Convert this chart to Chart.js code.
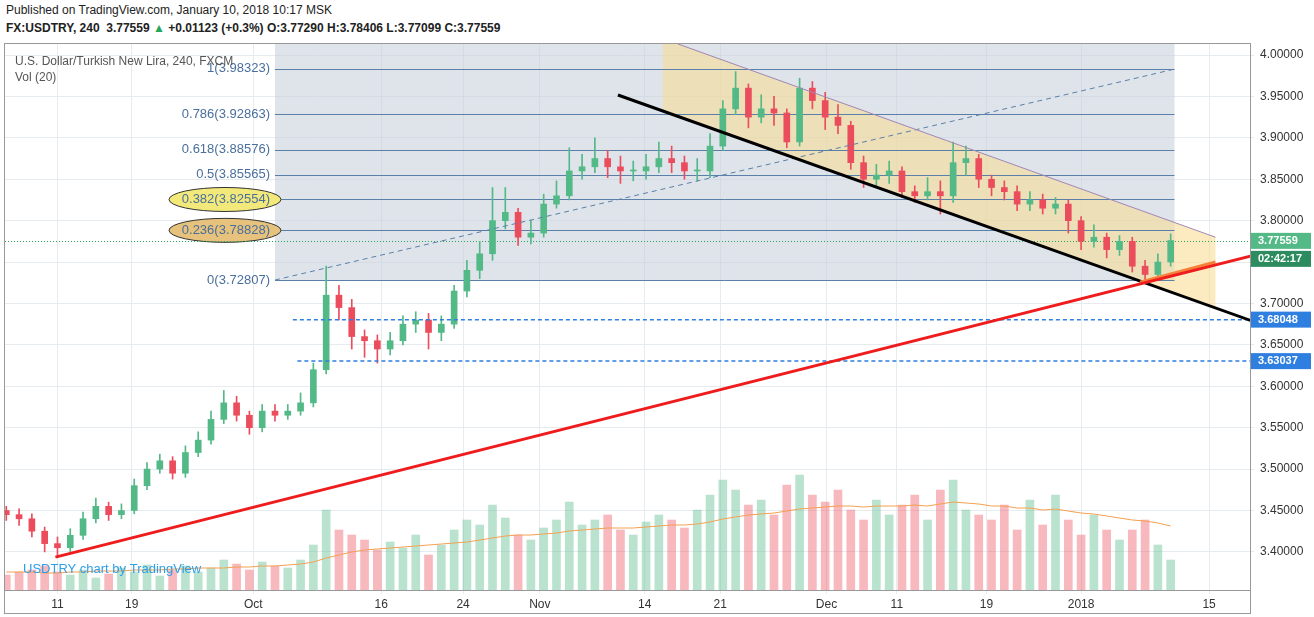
<!DOCTYPE html>
<html>
<head>
<meta charset="utf-8">
<script src="https://cdn.jsdelivr.net/npm/chart.js@4"></script>
<style>
  body { margin: 0; background: #fff; font-family: Arial, "Liberation Sans", sans-serif; }
  #wrap { position: relative; width: 1314px; height: 617px; }
  #head1 { position: absolute; left: 6px; top: 3px; font-size: 12px; color: #222; }
  #head2 { position: absolute; left: 6px; top: 21px; font-size: 12px; color: #222; font-weight: bold; }
  #head2 .up { color: #26a65b; }
  canvas { position: absolute; left: 0; top: 0; }
</style>
</head>
<body>
<div id="wrap">
  <div id="head1">Published on TradingView.com, January 10, 2018 10:17 MSK</div>
  <div id="head2">FX:USDTRY, 240&nbsp; 3.77559 <span class="up">▲</span> +0.01123 (+0.3%) O:3.77290 H:3.78406 L:3.77099 C:3.77559</div>
  <canvas id="chart" width="1314" height="617"></canvas>
</div>
<script>
// candle index -4 .. 87 (roughly one per trading day)
const firstIndex = -4;
const closes = [3.445,3.440,3.425,3.410,3.405,3.420,3.440,3.455,3.445,3.450,
  3.480,3.500,3.510,3.495,3.520,3.535,3.560,3.580,3.565,3.550,
  3.570,3.565,3.570,3.580,3.620,3.710,3.695,3.660,3.655,3.645,
  3.655,3.675,3.680,3.665,3.675,3.715,3.740,3.760,3.800,3.810,
  3.780,3.785,3.820,3.830,3.860,3.865,3.875,3.865,3.860,3.860,
  3.865,3.875,3.870,3.860,3.860,3.890,3.935,3.960,3.925,3.935,
  3.930,3.895,3.960,3.945,3.925,3.915,3.870,3.850,3.855,3.860,
  3.835,3.830,3.835,3.830,3.870,3.875,3.850,3.840,3.835,3.820,
  3.825,3.815,3.820,3.800,3.775,3.780,3.765,3.775,3.745,3.735,
  3.750,3.776];
const highs = [3.455,3.452,3.446,3.430,3.418,3.428,3.448,3.465,3.460,3.458,
  3.488,3.508,3.518,3.515,3.528,3.545,3.570,3.595,3.588,3.570,
  3.578,3.578,3.578,3.592,3.628,3.745,3.722,3.705,3.668,3.662,
  3.665,3.685,3.690,3.688,3.685,3.722,3.752,3.775,3.840,3.840,
  3.815,3.800,3.832,3.848,3.888,3.880,3.900,3.885,3.878,3.872,
  3.880,3.895,3.890,3.878,3.875,3.905,3.945,3.980,3.965,3.952,
  3.950,3.935,3.972,3.968,3.955,3.940,3.920,3.878,3.868,3.872,
  3.865,3.842,3.852,3.848,3.895,3.890,3.880,3.855,3.848,3.842,
  3.835,3.832,3.828,3.825,3.805,3.795,3.785,3.782,3.780,3.752,
  3.760,3.784];
const lows = [3.438,3.432,3.418,3.400,3.395,3.400,3.415,3.435,3.438,3.440,
  3.446,3.475,3.495,3.488,3.490,3.515,3.530,3.555,3.558,3.542,
  3.545,3.558,3.560,3.565,3.575,3.615,3.680,3.645,3.635,3.628,
  3.638,3.650,3.665,3.645,3.655,3.670,3.708,3.730,3.752,3.790,
  3.770,3.772,3.780,3.815,3.825,3.850,3.858,3.852,3.845,3.848,
  3.850,3.858,3.858,3.850,3.848,3.852,3.885,3.928,3.912,3.918,
  3.915,3.888,3.890,3.935,3.910,3.905,3.862,3.840,3.840,3.845,
  3.828,3.822,3.825,3.808,3.822,3.855,3.840,3.830,3.825,3.812,
  3.812,3.808,3.808,3.785,3.765,3.768,3.755,3.758,3.738,3.725,
  3.728,3.745];
const firstOpen = 3.450;
const volumes = [15,18,20,24,18,15,20,12,16,22,18,25,14,20,24,18,22,30,26,20,28,24,22,30,45,
  80,60,55,50,40,48,42,55,35,45,60,70,65,85,72,55,50,62,70,88,65,70,75,60,55,68,75,70,62,80,
  95,110,100,85,90,75,105,115,95,88,100,80,70,90,75,85,95,70,100,110,80,75,70,85,60,90,65,95,70,55,75,60,50,60,70,45,30];
const volumeMA = [18,18,18,17,17,18,18,19,19,19,20,20,20,21,21,22,22,22,23,23,24,24,25,26,28,
  32,35,38,40,41,42,43,44,45,46,47,48,50,52,54,55,55,56,57,59,60,61,62,62,62,63,64,65,65,66,
  68,71,73,75,76,77,79,81,82,83,84,84,83,84,84,84,85,84,86,88,87,86,84,84,82,82,80,81,79,77,76,74,72,70,69,67,64];

// x axis ticks (candle index) and labels
const tickValues = [0, 5.8, 15.3, 25.3, 31.7, 37.7, 45.9, 51.8, 60.1, 65.6, 72.6, 80, 90];
const tickLabels = ['11', '19', 'Oct', '16', '24', 'Nov', '14', '21', 'Dec', '11', '19', '2018', '15'];

// fibonacci levels
const fibRatios = ['1', '0.786', '0.618', '0.5', '0.382', '0.236', '0'];
const fibPrices = [3.98323, 3.92863, 3.88576, 3.85565, 3.82554, 3.78828, 3.72807];
const fibRange = [17.0, 87.3];

// drawings (index, price)
const fibDiagonal = [[17.0, 3.7283], [87.3, 3.983]];
const blackTrend = [[43.8, 3.9517], [93.6, 3.6775]];
const redTrend = [[-0.16, 3.3937], [93.6, 3.7585]];
const orangeTrend = [[84.6, 3.7258], [90.5, 3.750]];
const channelTop = [[48.5, 4.0133], [90.5, 3.780]];
const channelArea = [[47.3, 4.0133], [48.5, 4.0133], [90.5, 3.780], [90.5, 3.6946], [47.3, 3.9324]];
const support1 = [[18.4, 3.68048], [93.6, 3.68048]];
const support2 = [[18.75, 3.63037], [93.6, 3.63037]];
const lastPrice = 3.77559;

const UP = '#53b987', DOWN = '#eb4d5c';

const opens = closes.map((c, i) => i === 0 ? firstOpen : closes[i - 1]);
const idx = closes.map((c, i) => firstIndex + i);
const isUp = closes.map((c, i) => c >= opens[i]);

const toPts = arr => arr.map(p => ({ x: p[0], y: p[1] }));
const lineSet = (arr, color, width, dash) => ({
    type: 'line', data: toPts(arr), borderColor: color, borderWidth: width,
    borderDash: dash || [], pointRadius: 0, fill: false, yAxisID: 'y', order: 1
});

const overlays = {
    id: 'overlays',
    beforeDatasetsDraw(chart) {
        const { ctx, chartArea: a, scales: { x, y } } = chart;
        ctx.save();
        ctx.beginPath();
        ctx.rect(a.left, a.top, a.right - a.left, a.bottom - a.top);
        ctx.clip();
        // fib box
        ctx.fillStyle = 'rgba(196,206,218,0.55)';
        const fx0 = x.getPixelForValue(fibRange[0]), fx1 = x.getPixelForValue(fibRange[1]);
        ctx.fillRect(fx0, a.top, fx1 - fx0, y.getPixelForValue(fibPrices[6]) - a.top);
        // channel
        ctx.fillStyle = 'rgba(250,218,140,0.55)';
        ctx.beginPath();
        channelArea.forEach((p, i) => {
            const px = x.getPixelForValue(p[0]), py = y.getPixelForValue(p[1]);
            i ? ctx.lineTo(px, py) : ctx.moveTo(px, py);
        });
        ctx.closePath();
        ctx.fill();
        // fib lines
        ctx.strokeStyle = '#5a7fa8';
        ctx.lineWidth = 1;
        fibPrices.forEach(p => {
            const py = Math.round(y.getPixelForValue(p)) + 0.5;
            ctx.beginPath(); ctx.moveTo(fx0, py); ctx.lineTo(fx1, py); ctx.stroke();
        });
        ctx.restore();

        // fib labels
        ctx.save();
        ctx.font = '13px Arial';
        ctx.textAlign = 'right';
        ctx.textBaseline = 'middle';
        fibPrices.forEach((p, i) => {
            const py = y.getPixelForValue(p);
            if (i === 4 || i === 5) {
                ctx.beginPath();
                ctx.ellipse(fx0 - 50, py, 56, 12, 0, 0, Math.PI * 2);
                ctx.fillStyle = i === 4 ? '#f3e97a' : '#e6c27c';
                ctx.fill();
                ctx.strokeStyle = '#333';
                ctx.stroke();
            }
            ctx.fillStyle = '#4a6f9c';
            ctx.fillText(fibRatios[i] + '(' + p.toFixed(5) + ')', fx0 - 5, py);
        });
        // current price dotted line
        const lp = Math.round(y.getPixelForValue(lastPrice)) + 0.5;
        ctx.strokeStyle = '#26a65b';
        ctx.setLineDash([1, 2]);
        ctx.beginPath(); ctx.moveTo(a.left, lp); ctx.lineTo(a.right, lp); ctx.stroke();
        ctx.restore();
    },
    afterDraw(chart) {
        const { ctx, chartArea: a, scales: { y } } = chart;
        ctx.save();
        ctx.font = '12px Arial';
        ctx.textBaseline = 'middle';
        ctx.fillStyle = '#555';
        ctx.fillText('U.S. Dollar/Turkish New Lira, 240, FXCM', a.left + 10, 62);
        ctx.fillText('Vol (20)', a.left + 10, 78);
        ctx.fillStyle = '#2f9ee8';
        ctx.font = '13px Arial';
        ctx.fillText('USDTRY chart by TradingView', a.left + 18, 569);
        // frame
        ctx.strokeStyle = '#999';
        ctx.lineWidth = 1;
        ctx.strokeRect(a.left - 0.5, a.top - 0.5, a.right - a.left + 1, 617 - a.top - 3);
        // price tags
        const tag = (price, bg, text, dy) => {
            const py = y.getPixelForValue(price) + (dy || 0);
            ctx.fillStyle = bg;
            ctx.fillRect(a.right + 1, py - 8, 60, 16);
            ctx.fillStyle = '#fff';
            ctx.font = 'bold 11px Arial';
            ctx.fillText(text, a.right + 8, py);
        };
        tag(3.68048, '#2f7fe0', '3.68048');
        tag(3.63037, '#2f7fe0', '3.63037');
        tag(lastPrice, '#53b987', '3.77559');
        tag(lastPrice, '#2c8c5f', '02:42:17', 18);
        ctx.restore();
    }
};

new Chart(document.getElementById('chart'), {
    type: 'bar',
    data: {
        datasets: [
            lineSet(redTrend, '#ee1c1c', 3),
            lineSet(orangeTrend, '#f5813a', 3),
            lineSet(blackTrend, '#000', 3),
            lineSet(channelTop, '#9e86b6', 1),
            lineSet(fibDiagonal, '#5a7fa8', 1, [5, 4]),
            lineSet(support1, '#2f7fe0', 1.5, [4, 3]),
            lineSet(support2, '#2f7fe0', 1.5, [4, 3]),
            {
                type: 'line', data: idx.map((v, i) => ({ x: v, y: volumeMA[i] })),
                borderColor: '#f5a050', borderWidth: 1, pointRadius: 0, yAxisID: 'yv', order: 3
            },
            {
                data: idx.map((v, i) => ({ x: v, y: volumes[i] })),
                backgroundColor: isUp.map(u => u ? 'rgba(83,185,135,0.4)' : 'rgba(235,77,92,0.4)'),
                barThickness: 8, grouped: false, yAxisID: 'yv', order: 4
            },
            {
                data: idx.map((v, i) => ({ x: v, y: [lows[i], highs[i]] })),
                backgroundColor: isUp.map(u => u ? UP : DOWN),
                barThickness: 1, grouped: false, yAxisID: 'y', order: 2
            },
            {
                data: idx.map((v, i) => ({ x: v, y: [opens[i], closes[i]] })),
                backgroundColor: isUp.map(u => u ? UP : DOWN),
                minBarLength: 1, barThickness: 6, grouped: false, yAxisID: 'y', order: 2
            }
        ]
    },
    options: {
        responsive: false,
        animation: false,
        layout: { padding: { top: 44, left: 5, bottom: 0, right: 0 } },
        plugins: { legend: { display: false }, tooltip: { enabled: false } },
        scales: {
            x: {
                type: 'linear', min: -4.1, max: 93.2, offset: false,
                afterBuildTicks: s => { s.ticks = tickValues.map(v => ({ value: v })); },
                afterFit: s => { s.height = 27; },
                ticks: {
                    autoSkip: false, maxRotation: 0, color: '#333', font: { size: 12 },
                    callback: v => tickLabels[tickValues.indexOf(v)]
                },
                grid: { color: '#e6ebf0', drawTicks: true, tickLength: 4, offset: false },
                border: { color: '#999' }
            },
            y: {
                position: 'right', min: 3.354, max: 4.0133,
                afterBuildTicks: s => {
                    const t = [];
                    for (let k = 0; k <= 12; k++) t.push({ value: +(3.40 + k * 0.05).toFixed(2) });
                    s.ticks = t;
                },
                afterFit: s => { s.width = 64; },
                ticks: { color: '#333', font: { size: 12 }, callback: v => v.toFixed(5), padding: 6 },
                grid: { color: '#e6ebf0', tickLength: 4 },
                border: { color: '#999' }
            },
            yv: { display: false, min: 0, max: 546 }
        }
    },
    plugins: [overlays]
});
</script>
</body>
</html>
